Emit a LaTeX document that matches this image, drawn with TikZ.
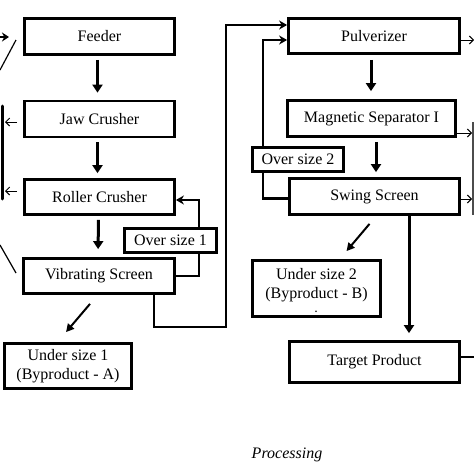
\documentclass[tikz,border=0pt]{standalone}
\usepackage{fontspec}
\setmainfont{Liberation Serif}
\usetikzlibrary{arrows.meta,calc}
\begin{document}
\begin{tikzpicture}[x=1pt, y=-1pt,
  stepbox/.style={draw, line width=2.8pt, fill=white, inner sep=0pt, align=center,
    font=\fontsize{16}{18.5}\selectfont},
  flow/.style={line width=3pt, -{Triangle[length=8pt,width=10pt]}},
  slant/.style={line width=2pt, -{Triangle[length=8pt,width=8pt]}},
  back/.style={line width=2.2pt, -{Stealth[length=8pt,width=9pt]}},
  side/.style={line width=1pt, -{Straight Barb[length=4pt,width=8pt]}}]
  \useasboundingbox (0,0) rectangle (474,474);
  \node[stepbox, minimum width=150pt, minimum height=36pt] (feeder) at (99.5,36.5) {Feeder};
  \node[stepbox, minimum width=150pt, minimum height=36pt] (jaw) at (99.5,119) {Jaw Crusher};
  \node[stepbox, minimum width=150pt, minimum height=35pt] (roller) at (99.5,197) {Roller Crusher};
  \node[stepbox, minimum width=151pt, minimum height=35pt] (vib) at (99,276) {Vibrating Screen};
  \node[stepbox, minimum width=127pt, minimum height=45pt] (under1) at (68,366) {Under size 1\\(Byproduct - A)};
  \node[stepbox, minimum width=171pt, minimum height=35pt] (pulv) at (374,36) {Pulverizer};
  \node[stepbox, minimum width=168pt, minimum height=36pt] (magsep) at (371.5,118.5) {Magnetic Separator I};
  \node[stepbox, minimum width=170pt, minimum height=36pt] (swing) at (374.5,196.5) {Swing Screen};
  \node[stepbox, minimum width=128pt, minimum height=56pt, text height=23pt] (under2) at (316.5,288.5) {Under size 2\\(Byproduct - B)};
  \node[font=\bfseries, inner sep=0pt] (dotB) at (316,312) {.};
  \node[stepbox, minimum width=170pt, minimum height=41pt] (target) at (374.5,362) {Target Product};

  \draw[flow, shorten <=4pt, shorten >=7pt] ([xshift=-2pt]feeder.south) -- ([xshift=-2pt]jaw.north);
  \draw[flow, shorten <=4pt, shorten >=5pt] ([xshift=-2pt]jaw.south) -- ([xshift=-2pt]roller.north);
  \draw[flow, shorten <=4pt, shorten >=8pt] ([xshift=-1pt]roller.south) -- ([xshift=-1pt]vib.north);
  \draw[slant] ($(vib.south)+(-9,9)$) -- ($(under1.north)+(-2,-10)$);
  \draw[flow, shorten <=5pt, shorten >=8pt] ([xshift=-3pt]pulv.south) -- ([xshift=-3pt]pulv.south |- magsep.north);
  \draw[flow, shorten <=4pt, shorten >=5pt] ([xshift=4.5pt]magsep.south) -- ([xshift=1.5pt]swing.north);
  \draw[slant] ($(swing.south)+(-5,8)$) -- ($(under2.north)+(30,-8)$);
  \draw[flow, shorten >=7pt] ([xshift=34.5pt]swing.south) -- ([xshift=34.5pt]swing.south |- target.north);

  \coordinate (loop1) at (199,200);
  \draw[back] (vib.east) -| (loop1) -- (loop1 -| roller.east);
  \node[stepbox, line width=2.5pt, minimum width=92pt, minimum height=24pt] (over1) at (170.5,240.5) {Over size 1};
  \coordinate (rise) at (226,327);
  \draw[back] ([xshift=-22pt]vib.south east) |- (rise) |- ([yshift=11pt]pulv.west);
  \coordinate (loop2) at (263,40);
  \draw[back] ([yshift=-2pt]swing.west) -| (loop2) -- (loop2 -| pulv.west);
  \node[stepbox, line width=2.5pt, minimum width=91pt, minimum height=24pt] (over2) at (298,159.5) {Over size 2};

  \draw[side] ([yshift=-4pt]pulv.east) -- (474,40);
  \draw[side] ([yshift=-14.5pt]magsep.east) -- (472,133);
  \draw[side] ([yshift=-2.5pt]swing.east) -- (472,199);
  \draw[black!70, line width=2pt] (473,122) -- (473,215);
  \draw[line width=2pt] ([yshift=5pt]target.east) -- (474,357);

  \draw[line width=2pt, -{Stealth[length=7pt,width=9pt]}] (-2,37) -- (9,37);
  \draw[line width=1.2pt] (0,70) -- (16,40);
  \draw[line width=3pt, line cap=round] (2,106) -- (2,199);
  \draw[side] (17,122) -- (5,122);
  \draw[side] (17,191) -- (5,191);
  \draw[line width=1.2pt] (0,245) -- (16,273);

  \node[font=\fontsize{16}{18}\selectfont\itshape] (caption) at (287,455) {Processing};
\end{tikzpicture}
\end{document}
